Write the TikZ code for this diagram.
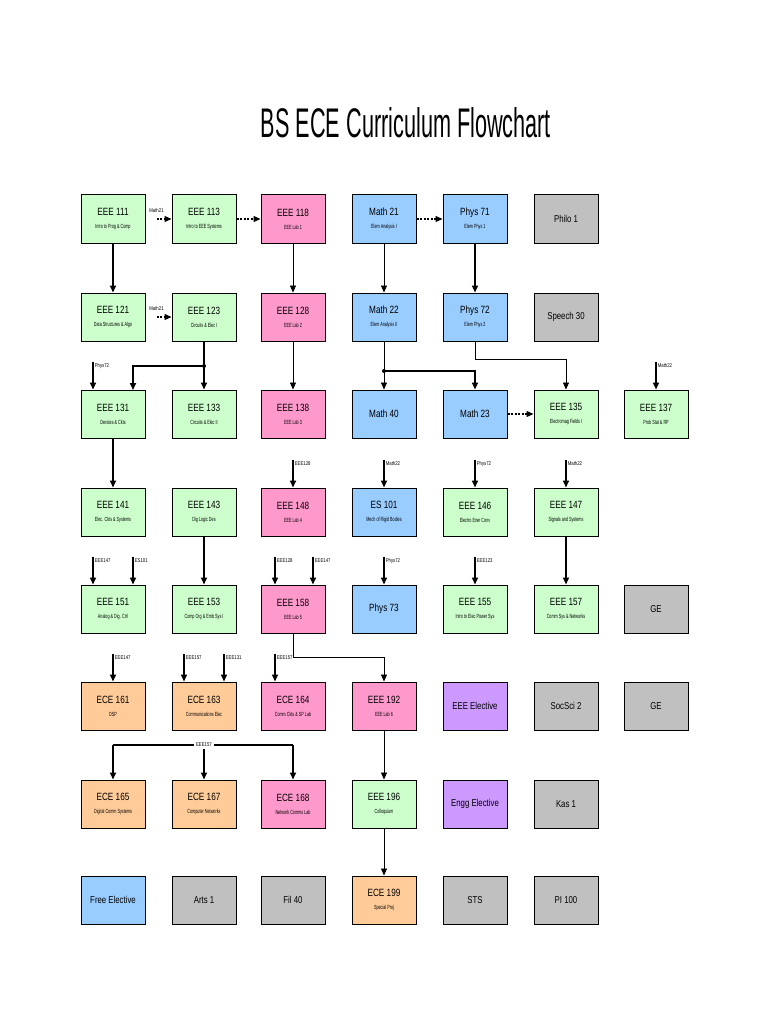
\documentclass[tikz,border=0pt]{standalone}
\usepackage{fontspec}
\setmainfont[FakeStretch=0.78]{Liberation Sans}
\usetikzlibrary{arrows.meta,calc}
\definecolor{cg}{HTML}{CCFFCC}
\definecolor{cp}{HTML}{FF99CC}
\definecolor{cb}{HTML}{99CCFF}
\definecolor{co}{HTML}{FFCC99}
\definecolor{cy}{HTML}{C0C0C0}
\definecolor{cv}{HTML}{CC99FF}
\newcommand{\cbox}[2]{{\fontsize{10.5}{11}\selectfont #1}\\[1pt]{\fontsize{6}{7}\selectfont\scalebox{0.8}[1]{#2}}}
\begin{document}
\begin{tikzpicture}[x=1pt,y=-1pt,
 box/.style={draw=black,line width=1pt,minimum width=64pt,minimum height=48pt,inner sep=1pt,align=center},
 sg/.style={box,fill=cg},sp/.style={box,fill=cp},sb/.style={box,fill=cb},
 so/.style={box,fill=co},sy/.style={box,fill=cy,font=\fontsize{10}{11}\selectfont},
 sv/.style={box,fill=cv,font=\fontsize{10}{11}\selectfont},
 thk/.style={line width=1.6pt,-{Triangle[length=7pt,width=6pt]}},
 thn/.style={line width=0.7pt,-{Triangle[length=7pt,width=6pt]}},
 dsh/.style={line width=1.2pt,dash pattern=on 2pt off 1.5pt,-{Triangle[length=7pt,width=6pt]}},
 lbl/.style={font=\fontsize{5.5}{6}\selectfont,inner sep=1pt,anchor=west}]
\useasboundingbox (0,0) rectangle (768,1024);
\node[font=\fontsize{30}{30}\selectfont] (title) at (406,123) {\resizebox{290pt}{30pt}{BS ECE Curriculum Flowchart}};
% row 1
\node[sg] (a1) at (113,219) {\cbox{EEE 111}{Intro to Prog \& Comp}};
\node[sg] (a2) at (204,219) {\cbox{EEE 113}{Intro to EEE Systems}};
\node[sp] (a3) at (293,219) {\cbox{EEE 118}{EEE Lab 1}};
\node[sb] (a4) at (384,219) {\cbox{Math 21}{Elem Analysis I}};
\node[sb] (a5) at (475,219) {\cbox{Phys 71}{Elem Phys 1}};
\node[sy] (a6) at (566,219) {Philo 1};
% row 2
\node[sg] (b1) at (113,317) {\cbox{EEE 121}{Data Structures \& Algo}};
\node[sg] (b2) at (204,317) {\cbox{EEE 123}{Circuits \& Elec I}};
\node[sp] (b3) at (293,317) {\cbox{EEE 128}{EEE Lab 2}};
\node[sb] (b4) at (384,317) {\cbox{Math 22}{Elem Analysis II}};
\node[sb] (b5) at (475,317) {\cbox{Phys 72}{Elem Phys 2}};
\node[sy] (b6) at (566,317) {Speech 30};
% row 3
\node[sg] (c1) at (113,414) {\cbox{EEE 131}{Devices \& Ckts}};
\node[sg] (c2) at (204,414) {\cbox{EEE 133}{Circuits \& Elec II}};
\node[sp] (c3) at (293,414) {\cbox{EEE 138}{EEE Lab 3}};
\node[sb,font=\fontsize{10.5}{11}\selectfont] (c4) at (384,414) {Math 40};
\node[sb,font=\fontsize{10.5}{11}\selectfont] (c5) at (475,414) {Math 23};
\node[sg] (c6) at (566,414) {\cbox{EEE 135}{Electromag Fields I}};
\node[sg] (c7) at (656,414) {\cbox{EEE 137}{Prob Stat \& RP}};
% row 4
\node[sg] (d1) at (113,512) {\cbox{EEE 141}{Elec. Ckts \& Systems}};
\node[sg] (d2) at (204,512) {\cbox{EEE 143}{Dig Logic Des}};
\node[sp] (d3) at (293,512) {\cbox{EEE 148}{EEE Lab 4}};
\node[sb] (d4) at (384,512) {\cbox{ES 101}{Mech of Rigid Bodies}};
\node[sg] (d5) at (475,512) {\cbox{EEE 146}{Electro Ener Conv}};
\node[sg] (d6) at (566,512) {\cbox{EEE 147}{Signals and Systems}};
% row 5
\node[sg] (e1) at (113,609) {\cbox{EEE 151}{Analog \& Dig. Ctrl}};
\node[sg] (e2) at (204,609) {\cbox{EEE 153}{Comp Org \& Emb Sys I}};
\node[sp] (e3) at (293,609) {\cbox{EEE 158}{EEE Lab 5}};
\node[sb,font=\fontsize{10.5}{11}\selectfont] (e4) at (384,609) {Phys 73};
\node[sg] (e5) at (475,609) {\cbox{EEE 155}{Intro to Elec Power Sys}};
\node[sg] (e6) at (566,609) {\cbox{EEE 157}{Comm Sys \& Networks}};
\node[sy] (e7) at (656,609) {GE};
% row 6
\node[so] (f1) at (113,706) {\cbox{ECE 161}{DSP}};
\node[so] (f2) at (204,706) {\cbox{ECE 163}{Communications Elec}};
\node[sp] (f3) at (293,706) {\cbox{ECE 164}{Comm Ckts \& SP Lab}};
\node[sp] (f4) at (384,706) {\cbox{EEE 192}{EEE Lab 6}};
\node[sv] (f5) at (475,706) {EEE Elective};
\node[sy] (f6) at (566,706) {SocSci 2};
\node[sy] (f7) at (656,706) {GE};
% row 7
\node[so] (g1) at (113,804) {\cbox{ECE 165}{Digital Comm Systems}};
\node[so] (g2) at (204,804) {\cbox{ECE 167}{Computer Networks}};
\node[sp] (g3) at (293,804) {\cbox{ECE 168}{Network Comms Lab}};
\node[sg] (g4) at (384,804) {\cbox{EEE 196}{Colloquium}};
\node[sv] (g5) at (475,804) {Engg Elective};
\node[sy] (g6) at (566,804) {Kas 1};
% row 8
\node[sb,font=\fontsize{10}{11}\selectfont] (h1) at (113,900) {Free Elective};
\node[sy] (h2) at (204,900) {Arts 1};
\node[sy] (h3) at (293,900) {Fil 40};
\node[so] (h4) at (384,900) {\cbox{ECE 199}{Special Proj}};
\node[sy] (h5) at (475,900) {STS};
\node[sy] (h6) at (566,900) {PI 100};
% direct links
\draw[thk] (a1) -- (b1);
\draw[dsh] (a2) -- (a3);
\draw[dsh] (a4) -- (a5);
\draw[thn] (a3) -- (b3);
\draw[thn] (b3) -- (c3);
\draw[thn] (a4) -- (b4);
\draw[thk] (a5) -- (b5);
\draw[dsh] (c5) -- (c6);
\draw[thk] (c1) -- (d1);
\draw[thk] (d2) -- (e2);
\draw[thk] (d6) -- (e6);
\draw[thn] (f4) -- (g4);
\draw[thn] (g4) -- (h4);
% EEE 123 branching
\coordinate (j1) at (204,366);
\draw[line width=1.6pt] (b2.south) -- (j1);
\fill (j1) circle (2pt);
\draw[thk] (j1) -- (c2);
\draw[thk] (j1) -- (133,366) -- (133,390);
% Math 22 branching
\coordinate (j2) at (384,371);
\draw[line width=0.7pt] (b4.south) -- (j2);
\fill (j2) circle (2pt);
\draw[thn] (j2) -- (c4);
\draw[thk] (j2) -- (475,371) -- (c5.north);
% Phys 72 -> EEE 135
\draw[thn] (b5.south) -- (475,359) -| (c6.north);
% EEE 158 -> EEE 192
\draw[thn] (e3.south) -- (293,657) -| (f4.north);
% EEE157 bar
\node[lbl,anchor=center,fill=white,inner sep=2pt] (l157) at (204,745) {EEE157};
\draw[line width=1.6pt] (l157.west) -- (113,745);
\draw[line width=1.6pt] (l157.east) -- (293,745);
\draw[thk] (113,745) -- (g1.north);
\draw[thk] (l157.south) -- (g2.north);
\draw[thk] (293,745) -- (g3.north);
% prereq labels with short arrows
\newcommand{\pre}[4]{%
 \draw[#4] ([xshift=#2pt,yshift=28pt]#1.north) node[lbl,anchor=north west] {#3} -- ([xshift=#2pt]#1.north);}
\draw[dsh] ([xshift=-15pt]a2.west) node[lbl,anchor=south,yshift=5pt] {Math21} -- (a2.west);
\draw[dsh] ([xshift=-15pt]b2.west) node[lbl,anchor=south,yshift=5pt] {Math21} -- (b2.west);
\pre{c1}{-20}{Phys72}{thk}
\pre{c7}{0}{Math22}{thk}
\pre{d3}{0}{EEE128}{thk}
\pre{d4}{0}{Math22}{thk}
\pre{d5}{0}{Phys72}{thk}
\pre{d6}{0}{Math22}{thk}
\pre{e1}{-20}{EEE147}{thk}
\pre{e1}{20}{ES101}{thk}
\pre{e3}{-18}{EEE128}{thk}
\pre{e3}{20}{EEE147}{thk}
\pre{e4}{0}{Phys72}{thk}
\pre{e5}{0}{EEE123}{thk}
\pre{f1}{0}{EEE147}{thk}
\pre{f2}{-20}{EEE157}{thk}
\pre{f2}{20}{EEE131}{thk}
\pre{f3}{-18}{EEE157}{thk}
\end{tikzpicture}
\end{document}
